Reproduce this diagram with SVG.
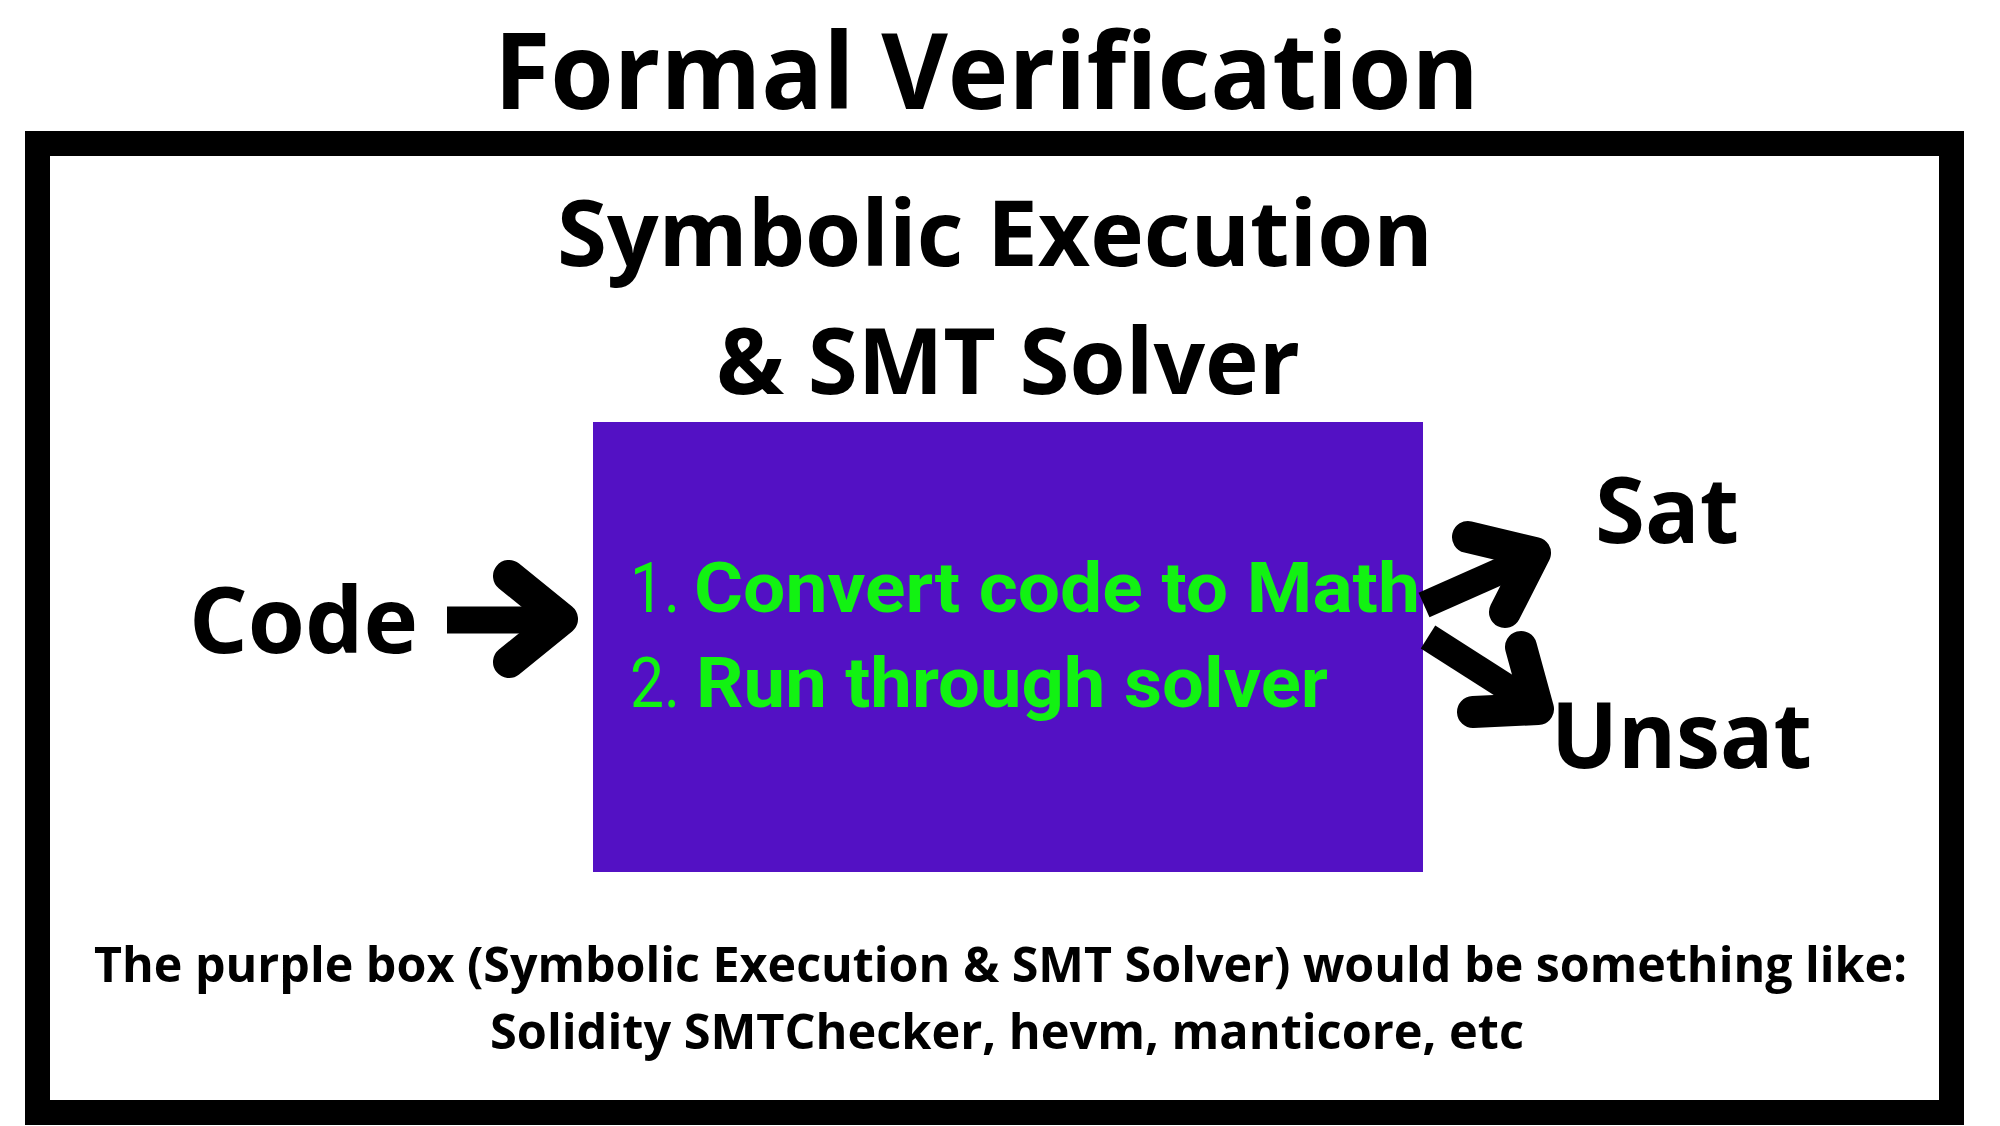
<svg xmlns="http://www.w3.org/2000/svg" width="2000" height="1126" viewBox="0 0 2000 1126">
<style>
.blk{fill:#000;font-family:"Open Sans","Noto Sans","Liberation Sans",sans-serif;font-weight:700}
.grn{fill:#12f212;font-family:"Roboto","Noto Sans","Liberation Sans",sans-serif}
.shaft{fill:none;stroke:#000;stroke-width:27;stroke-linecap:butt}
.head{fill:none;stroke:#000;stroke-width:32;stroke-linecap:round;stroke-linejoin:round}
</style>
<rect x="0" y="0" width="2000" height="1126" fill="#fff"/>
<g id="title">
<text class="blk" x="494" y="109" font-size="106" textLength="985" lengthAdjust="spacingAndGlyphs">Formal Verification</text>
</g>
<g id="frame">
<rect x="37.5" y="143.5" width="1914" height="969" fill="none" stroke="#000" stroke-width="25"/>
</g>
<g id="heading">
<text class="blk" x="557" y="266" font-size="91" textLength="876" lengthAdjust="spacingAndGlyphs">Symbolic Execution</text>
<text class="blk" x="716" y="394" font-size="91" textLength="584" lengthAdjust="spacingAndGlyphs">&amp; SMT Solver</text>
</g>
<g id="code">
<text class="blk" x="189" y="653" font-size="92" textLength="229" lengthAdjust="spacingAndGlyphs">Code</text>
</g>
<g id="solver">
<rect x="593" y="422" width="830" height="450" fill="#5311c4"/>
<text class="grn" x="630" y="612" font-size="70" font-weight="400" textLength="50" lengthAdjust="spacingAndGlyphs">1.</text>
<text class="grn" x="694" y="612" font-size="70" font-weight="700" textLength="726" lengthAdjust="spacingAndGlyphs">Convert code to Math</text>
<text class="grn" x="630" y="707" font-size="70" font-weight="400" textLength="50" lengthAdjust="spacingAndGlyphs">2.</text>
<text class="grn" x="696" y="707" font-size="70" font-weight="700" textLength="632" lengthAdjust="spacingAndGlyphs">Run through solver</text>
</g>
<g id="sat">
<text class="blk" x="1595" y="543" font-size="91" textLength="144" lengthAdjust="spacingAndGlyphs">Sat</text>
</g>
<g id="unsat">
<text class="blk" x="1551" y="768" font-size="91" textLength="261" lengthAdjust="spacingAndGlyphs">Unsat</text>
</g>
<g id="connectors">
<line class="shaft" x1="447" y1="620" x2="555" y2="620"/>
<polyline class="head" points="509,576 562,619 509,662"/>
<line class="shaft" x1="1424" y1="605" x2="1530" y2="558"/>
<polyline class="head" points="1468,537 1535,553 1505,612"/>
<line class="shaft" x1="1428" y1="637" x2="1530" y2="702"/>
<polyline class="head" points="1521,647 1538,709 1473,712"/>
</g>
<g id="note">
<text class="blk" x="94" y="982" font-size="49" textLength="1813" lengthAdjust="spacingAndGlyphs">The purple box (Symbolic Execution &amp; SMT Solver) would be something like:</text>
<text class="blk" x="490" y="1049" font-size="49" textLength="1034" lengthAdjust="spacingAndGlyphs">Solidity SMTChecker, hevm, manticore, etc</text>
</g>
</svg>
